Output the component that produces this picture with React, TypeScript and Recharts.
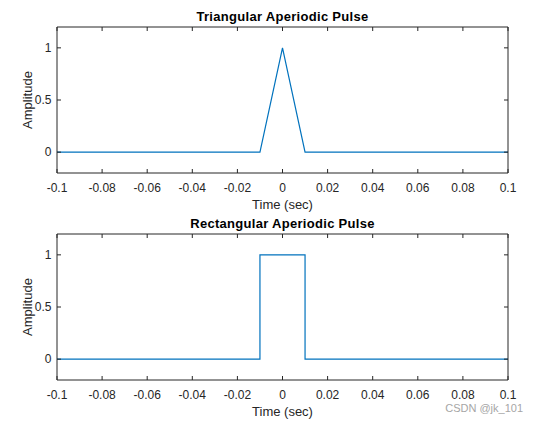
import React from "react";
import { LineChart, Line, XAxis, YAxis } from "recharts";

// sampled pulse shapes (time in seconds)
const triTime = [-0.1, -0.01, 0, 0.01, 0.1];
const triAmp = [0, 0, 1, 0, 0];
const rectTime = [-0.1, -0.01, -0.01, 0.01, 0.01, 0.1];
const rectAmp = [0, 0, 1, 1, 0, 0];

const xTicks = [-0.1, -0.08, -0.06, -0.04, -0.02, 0, 0.02, 0.04, 0.06, 0.08, 0.1];
const yTicks = [0, 0.5, 1];
const xDomain = [-0.1, 0.1];
const yDomain = [-0.2, 1.2];

const FONT = '"Liberation Sans", Arial, Helvetica, sans-serif';
const AXIS = "#262626";
const BLUE = "#0072BD";
const TICK_LEN = 4;

const fmt = (v: number) => (v === 0 ? "0" : String(v));

// MATLAB style ticks: short marks pointing into the plot box
const BottomTick = (props: any) => {
  const { x, y, payload } = props;
  return (
    <g>
      <line x1={x} x2={x} y1={y} y2={y - TICK_LEN} stroke={AXIS} strokeWidth={1} />
      <text x={x} y={y + 10} dy="0.71em" textAnchor="middle" fontSize={12} fill={AXIS} fontFamily={FONT}>
        {fmt(payload.value)}
      </text>
    </g>
  );
};

const LeftTick = (props: any) => {
  const { x, y, payload } = props;
  return (
    <g>
      <line x1={x} x2={x + TICK_LEN} y1={y} y2={y} stroke={AXIS} strokeWidth={1} />
      <text x={x - 5.5} y={y} dy="0.355em" textAnchor="end" fontSize={12} fill={AXIS} fontFamily={FONT}>
        {fmt(payload.value)}
      </text>
    </g>
  );
};

const TopTick = (props: any) => {
  const { x, y } = props;
  return <line x1={x} x2={x} y1={y} y2={y + TICK_LEN} stroke={AXIS} strokeWidth={1} />;
};

const RightTick = (props: any) => {
  const { x, y } = props;
  return <line x1={x} x2={x - TICK_LEN} y1={y} y2={y} stroke={AXIS} strokeWidth={1} />;
};

const yTitle = (props: any) => {
  const { viewBox } = props;
  const cx = viewBox.x + 14.5;
  const cy = viewBox.y + viewBox.height / 2;
  return (
    <text
      x={cx}
      y={cy}
      transform={`rotate(-90, ${cx}, ${cy})`}
      textAnchor="middle"
      fontSize={13}
      fill={AXIS}
      fontFamily={FONT}
    >
      Amplitude
    </text>
  );
};

interface PulseProps {
  title: string;
  time: number[];
  amp: number[];
  top: number;
  bottom: number;
}

function PulsePlot({ title, time, amp, top, bottom }: PulseProps) {
  const data = time.map((t, i) => ({ t, a: amp[i] }));
  return (
    <LineChart
      width={539}
      height={212}
      data={data}
      margin={{ top, right: 30, bottom, left: 17 }}
      style={{ fontFamily: FONT }}
    >
      <XAxis
        dataKey="t"
        type="number"
        domain={xDomain}
        ticks={xTicks}
        allowDataOverflow
        height={25}
        tickSize={0}
        tickMargin={0}
        tickLine={false}
        stroke={AXIS}
        tick={BottomTick}
        interval={0}
        label={{ value: "Time (sec)", position: "bottom", offset: 1.3, fontSize: 13, fill: AXIS }}
      />
      <XAxis
        xAxisId="top"
        dataKey="t"
        orientation="top"
        type="number"
        domain={xDomain}
        ticks={xTicks}
        allowDataOverflow
        height={1}
        tickSize={0}
        tickMargin={0}
        tickLine={false}
        tick={TopTick}
        stroke={AXIS}
        interval={0}
        label={{ value: title, position: "top", offset: 5.5, fontSize: 13, fontWeight: "bold", fill: "#000", letterSpacing: 0.3 }}
      />
      <YAxis
        type="number"
        domain={yDomain}
        ticks={yTicks}
        allowDataOverflow
        width={40}
        tickSize={0}
        tickMargin={0}
        tickLine={false}
        stroke={AXIS}
        tick={LeftTick}
        interval={0}
        label={{ value: "Amplitude", content: yTitle }}
      />
      <YAxis
        yAxisId="right"
        dataKey="a"
        orientation="right"
        type="number"
        domain={yDomain}
        ticks={yTicks}
        allowDataOverflow
        width={1}
        tickSize={0}
        tickMargin={0}
        tickLine={false}
        tick={RightTick}
        stroke={AXIS}
        interval={0}
      />
      <Line
        dataKey="a"
        type="linear"
        stroke={BLUE}
        strokeWidth={1.2}
        dot={false}
        isAnimationActive={false}
      />
    </LineChart>
  );
}

export default function App() {
  return (
    <div style={{ position: "absolute", left: 0, top: 0, width: 539, height: 424, background: "#fff" }}>
      <PulsePlot title="Triangular Aperiodic Pulse" time={triTime} amp={triAmp} top={26} bottom={14} />
      <PulsePlot title="Rectangular Aperiodic Pulse" time={rectTime} amp={rectAmp} top={21} bottom={19} />
      <svg style={{ position: "absolute", left: 0, top: 0 }} width={539} height={424}>
        <text x={523} y={412} textAnchor="end" fontSize={11} fill="#a6a6a6" fontFamily={FONT}>
          CSDN @jk_101
        </text>
      </svg>
    </div>
  );
}
